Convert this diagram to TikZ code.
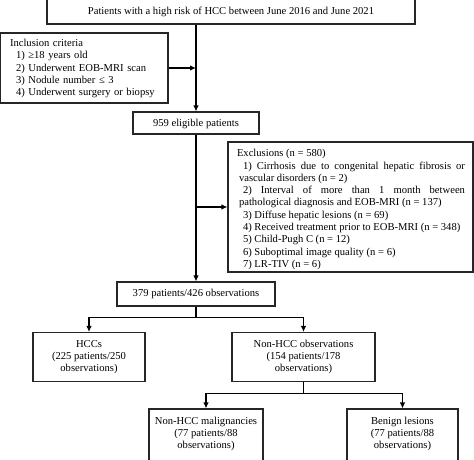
\documentclass[tikz,border=0pt]{standalone}
\usepackage{fontspec}
\setmainfont{Liberation Serif}
\usetikzlibrary{arrows.meta}
\begin{document}
\begin{tikzpicture}[x=1pt,y=-1pt,
  box/.style={draw=black!85, line width=1.1pt, inner sep=0pt},
  txt/.style={inner sep=0pt, align=center, font=\fontsize{10.6}{12.3}\selectfont},
  arr/.style={line width=1.1pt, -{Latex[length=6pt,width=5.5pt]}},
  ln/.style={line width=1.1pt}]
\useasboundingbox (0,0) rectangle (474,460);
\clip (0,0) rectangle (474,460);
% boxes
\node[box, minimum width=368pt, minimum height=34pt] (top) at (231,7) {};
\node[box, minimum width=167.4pt, minimum height=70pt] (inc) at (84.3,68) {};
\node[box, minimum width=126pt, minimum height=22pt] (n959) at (196,123) {};
\node[box, minimum width=245pt, minimum height=130pt] (exc) at (350.5,207) {};
\node[box, minimum width=158pt, minimum height=24pt] (n379) at (196,294) {};
\node[box, minimum width=112pt, minimum height=49pt] (hcc) at (89,357) {};
\node[box, minimum width=143pt, minimum height=49pt] (nh) at (303.5,357) {};
\node[box, minimum width=114pt, minimum height=62pt] (mal) at (206,440) {};
\node[box, minimum width=111pt, minimum height=62pt] (ben) at (402.5,440) {};
% texts
\node[txt] (topT) at (231,12) {Patients with a high risk of HCC between June 2016 and June 2021};
\node[txt, text width=158pt, align=left] (incT) at (89,68.5) {Inclusion criteria\\
\hspace*{6pt}1) ≥18 years old\\
\hspace*{6pt}2) Underwent EOB-MRI scan\\
\hspace*{6pt}3) Nodule number ≤ 3\\
\hspace*{6pt}4) Underwent surgery or biopsy};
\node[txt] (n959T) at (196,124) {959 eligible patients};
\node[txt, text width=226pt, align=justify] (excT) at (352,209.5) {\setlength{\parindent}{0pt}\hspace*{-2pt}Exclusions (n = 580)\par
\hspace*{4pt}1) Cirrhosis due to congenital hepatic fibrosis or\linebreak vascular disorders (n = 2)\par
\hspace*{4pt}2) Interval of more than 1 month between\linebreak pathological diagnosis and EOB-MRI (n = 137)\par
\hspace*{4pt}3) Diffuse hepatic lesions (n = 69)\par
\hspace*{4pt}4) Received treatment prior to EOB-MRI (n = 348)\par
\hspace*{4pt}5) Child-Pugh C (n = 12)\par
\hspace*{4pt}6) Suboptimal image quality (n = 6)\par
\hspace*{4pt}7) LR-TIV (n = 6)};
\node[txt] (n379T) at (196,293.5) {379 patients/426 observations};
\node[txt] (hccT) at (89,357) {HCCs\\(225 patients/250\\observations)};
\node[txt] (nhT) at (303.5,357) {Non-HCC observations\\(154 patients/178\\observations)};
\node[txt] (malT) at (206,434) {Non-HCC malignancies\\(77 patients/88\\observations)};
\node[txt] (benT) at (402.5,434) {Benign lesions\\(77 patients/88\\observations)};
% connectors
\draw[arr] (n959.north |- top.south) -- (n959.north);
\draw[arr] (inc.east) -- (inc.east -| n959.north);
\draw[arr] (n959.south) -- (n379.north);
\draw[arr] (exc.west -| n959.south) -- (exc.west);
\coordinate (j1) at ([yshift=-11pt]n379.south);
\draw[ln] (n379.south) -- (j1);
\draw[arr] (j1) -| (hcc.north);
\draw[arr] (j1) -| (nh.north);
\coordinate (j2) at ([yshift=-11pt]nh.south);
\draw[ln] (nh.south) -- (j2);
\draw[arr] (j2) -| (mal.north);
\draw[arr] (j2) -| (ben.north);
\end{tikzpicture}
\end{document}
